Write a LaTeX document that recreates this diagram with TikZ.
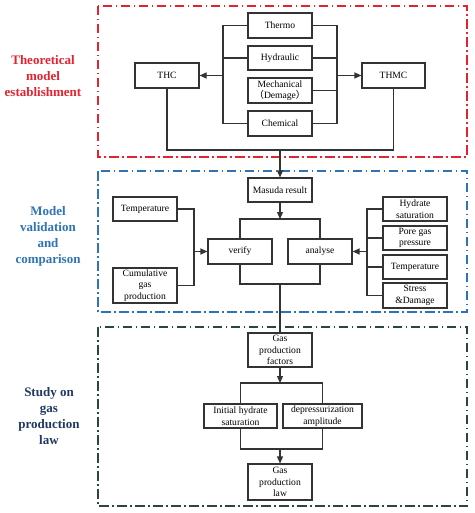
\documentclass[tikz,border=0pt]{standalone}
\usepackage{fontspec}
\setmainfont{Liberation Serif}
\newfontfamily\cjk{Noto Sans CJK SC}
\usetikzlibrary{arrows.meta,calc}
\definecolor{tred}{HTML}{E52330}
\definecolor{tblue}{HTML}{2E74B5}
\definecolor{tnavy}{HTML}{1F3864}
\definecolor{tgreen}{HTML}{2B4640}
\definecolor{tline}{HTML}{333333}
\begin{document}
\begin{tikzpicture}[x=1pt,y=-1pt,
  bx/.style={draw=tline,line width=1.1pt,fill=white,inner sep=1pt,align=center,
    font=\fontsize{9.6}{11.5}\selectfont,minimum width=64pt,minimum height=24pt},
  conn/.style={draw=tline,line width=1.1pt},
  arr/.style={conn,-{Triangle[length=7pt,width=6pt]}},
  frame/.style={line width=1.8pt,dash pattern=on 9.5pt off 3.5pt on 1.5pt off 3.5pt},
  lbl/.style={align=center,font=\fontsize{13}{16}\selectfont\bfseries}
]
\useasboundingbox (0,0) rectangle (474,513);
\fill[white] (0,0) rectangle (474,513);
% frames
\draw[frame,tred] (98,6) rectangle (467,157);
\draw[frame,tblue] (98,171) rectangle (467,312);
\draw[frame,tgreen] (98,327) rectangle (467,506);
% labels
\node[lbl,text=tred] (L1) at (43,76) {Theoretical\\model\\establishment};
\node[lbl,text=tblue] (L2) at (48,236) {Model\\validation\\and\\comparison};
\node[lbl,text=tnavy] (L3) at (49,416) {Study on\\gas\\production\\law};
% section 1
\node[bx,minimum height=25pt] (thermo) at (280,25.5) {Thermo};
\node[bx] (hydr) at (280,58) {Hydraulic};
\node[bx,minimum height=25pt] (mech) at (280,90.5) {Mechanical\\{\cjk （}Demage{\cjk ）}};
\node[bx,minimum height=25pt] (chem) at (280,123.5) {Chemical};
\node[bx,minimum height=25pt] (thc) at (167,75.5) {THC};
\node[bx,minimum width=63pt,minimum height=25pt] (thmc) at (393.5,75.5) {THMC};
\coordinate (lbt) at (223,25.5);
\coordinate (lbb) at (223,123.5);
\coordinate (rbt) at (337,25.5);
\coordinate (rbb) at (337,123.5);
\draw[conn] (thermo.west) -- (lbt) -- (lbb) -- (chem.west);
\draw[conn] (hydr.west) -- (hydr.west -| lbt);
\draw[arr] (thc.east -| lbt) -- (thc.east);
\draw[conn] (thermo.east) -- (rbt) -- (rbb) -- (chem.east);
\draw[conn] (hydr.east) -- (hydr.east -| rbt);
\draw[conn] (mech.east) -- (mech.east -| rbt);
\draw[arr] (thmc.west -| rbt) -- (thmc.west);
\coordinate (j1) at (280,150);
\draw[conn] (thc.south) -- (thc.south |- j1) -- (thmc.south |- j1) -- (thmc.south);
% section 2
\node[bx] (masuda) at (280,190) {Masuda result};
\draw[arr] (j1) -- (masuda.north);
\node[bx,minimum height=25pt] (verify) at (240,251.5) {verify};
\node[bx,minimum height=25pt] (analyse) at (320,251.5) {analyse};
\node[bx] (temp1) at (145,209) {Temperature};
\node[bx,minimum height=35pt] (cum) at (145,285.5) {Cumulative\\gas\\production};
\node[bx] (hyd) at (415,209) {Hydrate\\saturation};
\node[bx] (pore) at (415,238) {Pore gas\\pressure};
\node[bx] (temp2) at (415,267) {Temperature};
\node[bx,minimum height=25pt] (stress) at (415,295.5) {Stress\\\&Damage};
\coordinate (s1) at (280,219);
\draw[arr] (masuda.south) -- (s1);
\draw[conn] (verify.north) -- (verify.north |- s1) -- (analyse.north |- s1) -- (analyse.north);
\coordinate (m1) at (280,284);
\draw[conn] (verify.south) -- (verify.south |- m1) -- (analyse.south |- m1) -- (analyse.south);
\coordinate (lb2t) at (194,209);
\coordinate (lb2b) at (194,285.5);
\draw[conn] (temp1.east) -- (lb2t) -- (lb2b) -- (cum.east);
\draw[arr] (verify.west -| lb2t) -- (verify.west);
\coordinate (rb2t) at (367,209);
\coordinate (rb2b) at (367,295.5);
\draw[conn] (hyd.west) -- (rb2t) -- (rb2b) -- (stress.west);
\draw[conn] (pore.west) -- (pore.west -| rb2t);
\draw[conn] (temp2.west) -- (temp2.west -| rb2t);
\draw[arr] (analyse.east -| rb2t) -- (analyse.east);
% section 3
\node[bx,minimum height=34pt] (gpf) at (280,350) {Gas\\production\\factors};
\draw[conn] (m1) -- (gpf.north);
\node[bx,minimum width=73pt] (init) at (240.5,416) {Initial hydrate\\saturation};
\node[bx,minimum width=79pt] (dep) at (322.5,416) {depressurization\\amplitude};
\node[bx,minimum height=36pt] (gpl) at (280,482) {Gas\\production\\law};
\coordinate (s2) at (280,383);
\draw[arr] (gpf.south) -- (s2);
\draw[conn] (init.north) -- (init.north |- s2) -- (dep.north |- s2) -- (dep.north);
\coordinate (m2) at (280,449);
\draw[conn] (init.south) -- (init.south |- m2) -- (dep.south |- m2) -- (dep.south);
\draw[arr] (m2) -- (gpl.north);
\end{tikzpicture}
\end{document}
